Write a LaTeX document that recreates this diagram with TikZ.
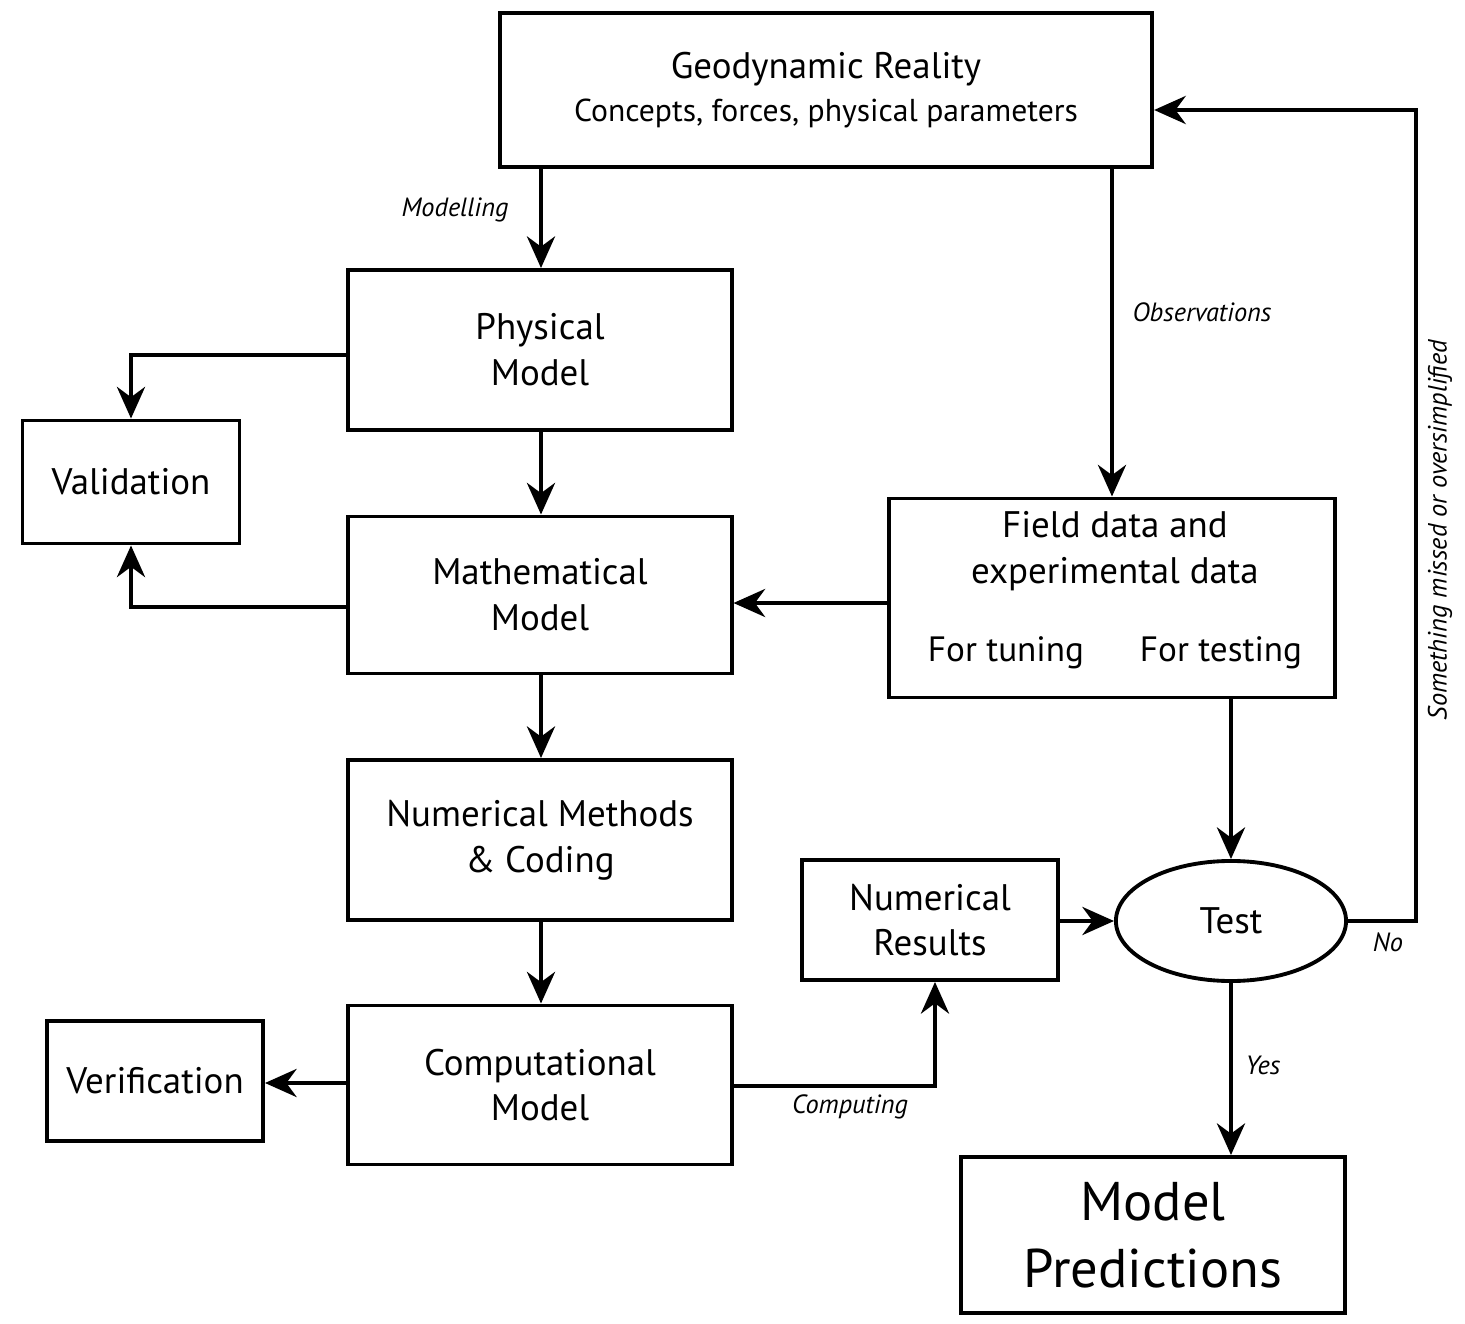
\documentclass[tikz,border=0pt]{standalone}
\usepackage{fontspec}
\setmainfont{PT Sans}
\usetikzlibrary{arrows.meta,calc,shapes.geometric}
\begin{document}
\begin{tikzpicture}[x=0.01cm,y=-0.01cm,
  box/.style={draw,line width=1.1pt,align=center,inner sep=0pt,font=\fontsize{10.5pt}{13pt}\selectfont},
  arr/.style={line width=1.1pt,-{Stealth[length=9pt,width=8pt]}},
  lab/.style={font=\fontsize{7.5pt}{9pt}\selectfont\itshape}]
\useasboundingbox (0,0) rectangle (1465,1324);
\node[box,minimum width=6.52cm,minimum height=1.54cm] (geo) at (826,90) {Geodynamic Reality\\[-1pt]{\fontsize{9pt}{11pt}\selectfont Concepts, forces, physical parameters}};
\node[box,minimum width=3.83cm,minimum height=1.6cm] (phys) at (540,350) {Physical\\Model};
\node[box,minimum width=2.17cm,minimum height=1.23cm] (val) at (131,482) {Validation};
\node[box,minimum width=3.83cm,minimum height=1.57cm] (math) at (540,595) {Mathematical\\Model};
\node[box,minimum width=4.46cm,minimum height=1.99cm] (field) at (1112,598) {};
\node[font=\fontsize{10.5pt}{13pt}\selectfont,align=center] (ft1) at (1115,551) {Field data and\\experimental data};
\node[font=\fontsize{10pt}{12pt}\selectfont] (ft2) at (1006,653) {For tuning};
\node[font=\fontsize{10pt}{12pt}\selectfont] (ft3) at (1221,653) {For testing};
\node[box,minimum width=3.83cm,minimum height=1.6cm] (num) at (540,840) {Numerical Methods\\\& Coding};
\node[box,minimum width=2.56cm,minimum height=1.2cm] (res) at (930,920) {Numerical\\Results};
\node[draw,line width=1.1pt,ellipse,minimum width=2.3cm,minimum height=1.2cm,inner sep=0pt,font=\fontsize{10.5pt}{13pt}\selectfont] (test) at (1231,921) {Test};
\node[box,minimum width=3.83cm,minimum height=1.59cm] (comp) at (540,1085) {Computational\\Model};
\node[box,minimum width=2.16cm,minimum height=1.2cm] (ver) at (155,1081) {Verification};
\node[box,minimum width=3.83cm,minimum height=1.56cm,font=\fontsize{15.5pt}{19pt}\selectfont] (pred) at (1153,1235) {Model\\Predictions};
\draw[arr] (geo.south -| 541,0) -- (phys.north -| 541,0);
\node[lab] (l1) at (455,210) {Modelling};
\draw[arr] (geo.south -| 1112,0) -- (field.north -| 1112,0);
\node[lab] (l2) at (1202,312) {Observations};
\draw[arr] (phys.west |- 0,355) -- (131,355) -- (val.north);
\draw[arr] (math.west |- 0,607) -- (131,607) -- (val.south);
\draw[arr] (phys.south -| 541,0) -- (math.north -| 541,0);
\draw[arr] (math.south -| 541,0) -- (num.north -| 541,0);
\draw[arr] (num.south -| 541,0) -- (comp.north -| 541,0);
\draw[arr] (field.west |- 0,603) -- (math.east |- 0,603);
\draw[arr] (field.south -| 1231,0) -- (test.north);
\draw[arr] (res.east |- test.west) -- (test.west);
\draw[arr] (test.east) -- (1416,921) -- (1416,110) -- (geo.east |- 0,110);
\node[lab] (l3) at (1388,942) {No};
\node[lab,rotate=90] (l4) at (1440,530) {Something missed or oversimplified};
\draw[arr] (test.south) -- (pred.north -| 1231,0);
\node[lab] (l5) at (1263,1065) {Yes};
\draw[arr] (comp.east |- 0,1086) -- (935,1086) -- (res.south -| 935,0);
\node[lab] (l6) at (850,1107) {Computing};
\draw[arr] (comp.west |- 0,1083) -- (ver.east |- 0,1083);
\end{tikzpicture}
\end{document}
